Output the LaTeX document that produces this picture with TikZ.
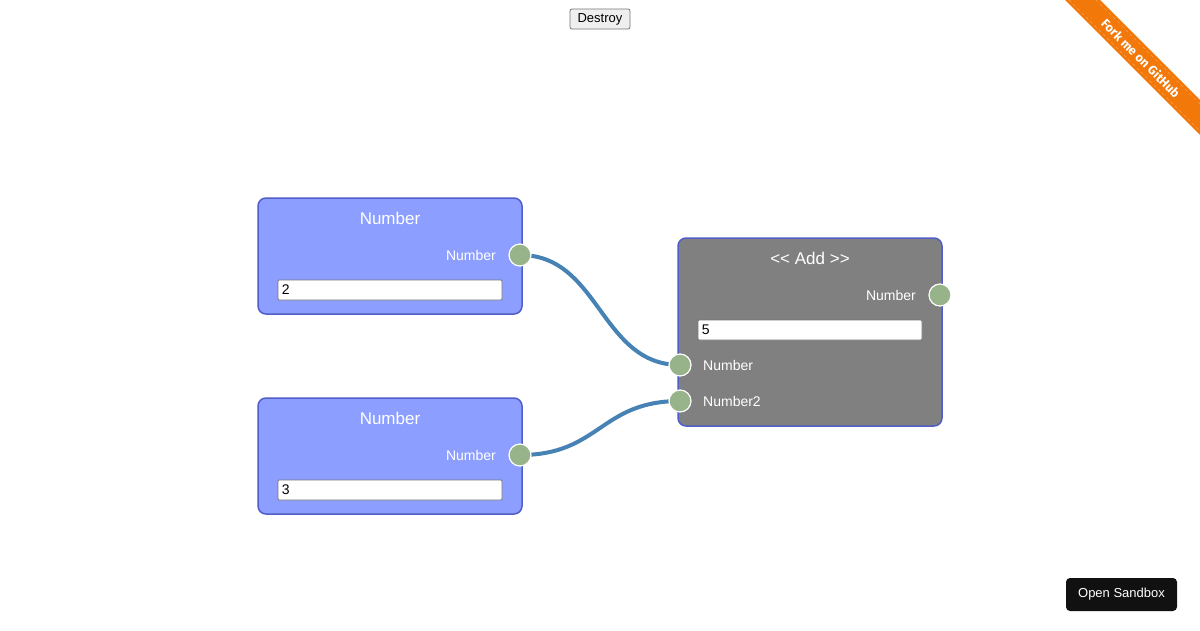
\documentclass[tikz,border=0pt]{standalone}
\usepackage{fontspec}
\setmainfont{Liberation Sans}
\newfontfamily\ribbonfont{Fira Sans}
\pgfdeclarelayer{bottom}
\pgfdeclarelayer{wires}
\pgfsetlayers{bottom,wires,main}
\definecolor{nodeblue}{RGB}{140,158,255}
\definecolor{nodeborder}{RGB}{80,94,200}
\definecolor{addgray}{RGB}{128,128,128}
\definecolor{socketgreen}{RGB}{151,179,138}
\definecolor{wire}{RGB}{70,130,180}
\definecolor{ribbon}{RGB}{242,120,10}
\definecolor{btngray}{RGB}{239,239,239}
\definecolor{btnborder}{RGB}{118,118,118}
\tikzset{
  nodebox/.style={draw=nodeborder, line width=1.5pt, rounded corners=8pt, minimum width=264pt, inner sep=0pt},
  titletext/.style={text=white, font=\fontsize{17}{20}\selectfont, inner sep=0pt},
  labeltext/.style={text=white, font=\fontsize{14}{16}\selectfont, inner sep=0pt},
  inputbox/.style={draw=btnborder, fill=white, line width=0.8pt, minimum width=224pt, minimum height=20pt, inner sep=0pt, rounded corners=1pt},
  inputtext/.style={text=black, font=\fontsize{14}{16}\selectfont, inner sep=0pt, anchor=west},
  socket/.style={circle, draw=white, line width=1.2pt, fill=socketgreen, minimum size=22pt, inner sep=0pt},
  wireline/.style={draw=wire, line width=4pt}
}
\begin{document}
\begin{tikzpicture}[x=1pt,y=-1pt]
\begin{pgfonlayer}{bottom}
\fill[white] (0,0) rectangle (1200,630);
\end{pgfonlayer}
\useasboundingbox (0,0) rectangle (1200,630);

% Number node 1
\node[nodebox, fill=nodeblue, minimum height=116pt] (num1) at (390,256) {};
\node[titletext] (num1title) at (390,218) {Number};
\node[labeltext, anchor=east] (num1lab) at (496,255) {Number};
\node[inputbox] (num1in) at (390,290) {};
\node[inputtext] (num1val) at ([xshift=4pt]num1in.west) {2};
\node[socket] (num1out) at (520,255) {};

% Number node 2
\node[nodebox, fill=nodeblue, minimum height=116pt] (num2) at (390,456) {};
\node[titletext] (num2title) at (390,418) {Number};
\node[labeltext, anchor=east] (num2lab) at (496,455) {Number};
\node[inputbox] (num2in) at (390,490) {};
\node[inputtext] (num2val) at ([xshift=4pt]num2in.west) {3};
\node[socket] (num2out) at (520,455) {};

% Add node
\node[nodebox, fill=addgray, minimum height=188pt] (add) at (810,332) {};
\node[titletext] (addtitle) at (810,258) {{<}{<} Add {>}{>}};
\node[labeltext, anchor=east] (addlab) at (916,295) {Number};
\node[inputbox] (addin) at (810,330) {};
\node[inputtext] (addval) at ([xshift=4pt]addin.west) {5};
\node[labeltext, anchor=west] (addin1lab) at (703,365) {Number};
\node[labeltext, anchor=west] (addin2lab) at (703,401) {Number2};
\node[socket] (addout) at (940,295) {};
\node[socket] (addin1) at (680,365) {};
\node[socket] (addin2) at (680,401) {};

% Connectors
\begin{pgfonlayer}{wires}
\draw[wireline] (num1out.center) .. controls +(80,0) and +(-80,0) .. (addin1.center);
\draw[wireline] (num2out.center) .. controls +(80,0) and +(-80,0) .. (addin2.center);
\end{pgfonlayer}

% Destroy button
\node[draw=btnborder, fill=btngray, rounded corners=2pt, line width=0.8pt, minimum width=60pt, minimum height=20pt, inner sep=0pt, font=\fontsize{13}{15}\selectfont] (destroy) at (600,19) {Destroy};

% Open Sandbox button
\node[fill={rgb,255:red,17;green,17;blue,17}, rounded corners=4pt, minimum width=111pt, minimum height=33pt, inner sep=0pt, text=white, font=\fontsize{13}{15}\selectfont] (sandbox) at (1121.5,594.5) {Open Sandbox};

% Fork ribbon
\fill[ribbon] (1065,0) -- (1100,0) -- (1200,100) -- (1200,135) -- cycle;
\draw[white, opacity=0.3, line width=0.6pt, dashed] (1069,0) -- (1200,131);
\draw[white, opacity=0.3, line width=0.6pt, dashed] (1096,0) -- (1200,104);
\node[rotate=-45, text=white, font=\ribbonfont\bfseries\fontsize{12.5}{15}\selectfont, inner sep=0pt] (fork) at (1141,58) {Fork me on GitHub};
\end{tikzpicture}
\end{document}
